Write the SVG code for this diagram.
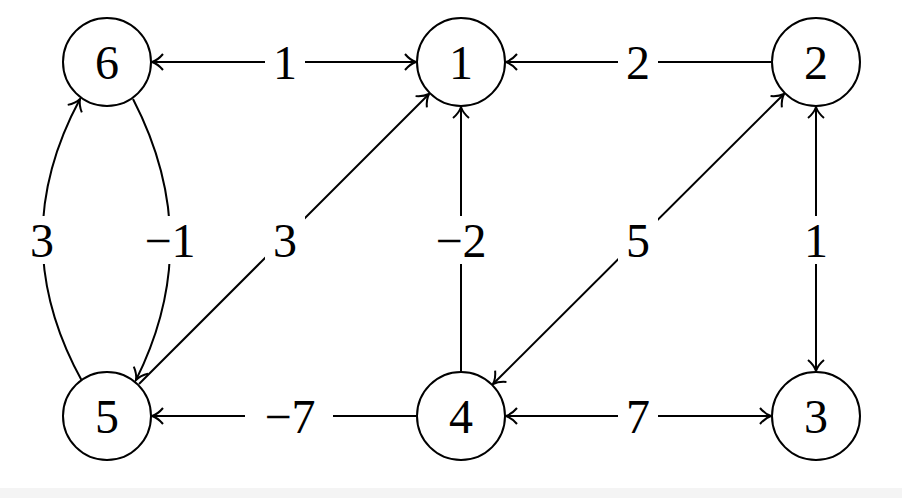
<svg xmlns="http://www.w3.org/2000/svg" width="902" height="498" viewBox="0 0 902 498">
<style>
.n{fill:#fff;stroke:#000;stroke-width:2}
.e{fill:none;stroke:#000;stroke-width:2}
.t{font-family:"Liberation Serif",serif;font-size:48px;text-anchor:middle;dominant-baseline:central}
.bg{fill:#fff}
</style>
<defs>
<marker id="a" markerWidth="20" markerHeight="20" refX="14" refY="10" orient="auto-start-reverse" markerUnits="userSpaceOnUse">
<path d="M3,2 Q8,8 14,10 Q8,12 3,18" fill="none" stroke="#000" stroke-width="2"/>
</marker>
</defs>
<rect width="902" height="498" fill="#fff"/>
<rect y="488" width="902" height="10" fill="#f4f4f4"/>
<g id="connectors">
<path class="e" d="M152,62 H416" marker-start="url(#a)" marker-end="url(#a)"/>
<path class="e" d="M771,62 H506" marker-end="url(#a)"/>
<path class="e" d="M139,384 L429,94" marker-end="url(#a)"/>
<path class="e" d="M461,371 V107" marker-end="url(#a)"/>
<path class="e" d="M493,384 L784,94" marker-start="url(#a)" marker-end="url(#a)"/>
<path class="e" d="M816,107 V371" marker-start="url(#a)" marker-end="url(#a)"/>
<path class="e" d="M416,416 H152" marker-end="url(#a)"/>
<path class="e" d="M506,416 H771" marker-start="url(#a)" marker-end="url(#a)"/>
<path class="e" d="M82,381 Q4,240 80,99" marker-end="url(#a)"/>
<path class="e" d="M133,99 Q206,240 136,380" marker-end="url(#a)"/>
<rect class="bg" x="265" y="216" width="40" height="48"/>
<rect class="bg" x="265" y="38" width="40" height="48"/><text class="t" x="285" y="62">1</text>
<rect class="bg" x="618" y="38" width="40" height="48"/><text class="t" x="638" y="62">2</text>
<text class="t" x="285" y="240">3</text>
<rect class="bg" x="421" y="216" width="80" height="48"/><text class="t" x="461" y="240">−2</text>
<rect class="bg" x="618" y="216" width="40" height="48"/><text class="t" x="638" y="240">5</text>
<rect class="bg" x="796" y="216" width="40" height="48"/><text class="t" x="816" y="240">1</text>
<rect class="bg" x="245" y="392" width="88" height="48"/><text class="t" x="290" y="416">−7</text>
<rect class="bg" x="618" y="392" width="40" height="48"/><text class="t" x="638" y="416">7</text>
<rect class="bg" x="24" y="216" width="36" height="48"/><text class="t" x="42" y="240">3</text>
<rect class="bg" x="130" y="216" width="80" height="48"/><text class="t" x="170" y="240">−1</text>
</g>
<g id="n6"><circle class="n" cx="107" cy="62" r="44"/><text class="t" x="107" y="62">6</text></g>
<g id="n1"><circle class="n" cx="461" cy="62" r="44"/><text class="t" x="461" y="62">1</text></g>
<g id="n2"><circle class="n" cx="816" cy="62" r="44"/><text class="t" x="816" y="62">2</text></g>
<g id="n5"><circle class="n" cx="107" cy="416" r="44"/><text class="t" x="107" y="416">5</text></g>
<g id="n4"><circle class="n" cx="461" cy="416" r="44"/><text class="t" x="461" y="416">4</text></g>
<g id="n3"><circle class="n" cx="816" cy="416" r="44"/><text class="t" x="816" y="416">3</text></g>
</svg>
